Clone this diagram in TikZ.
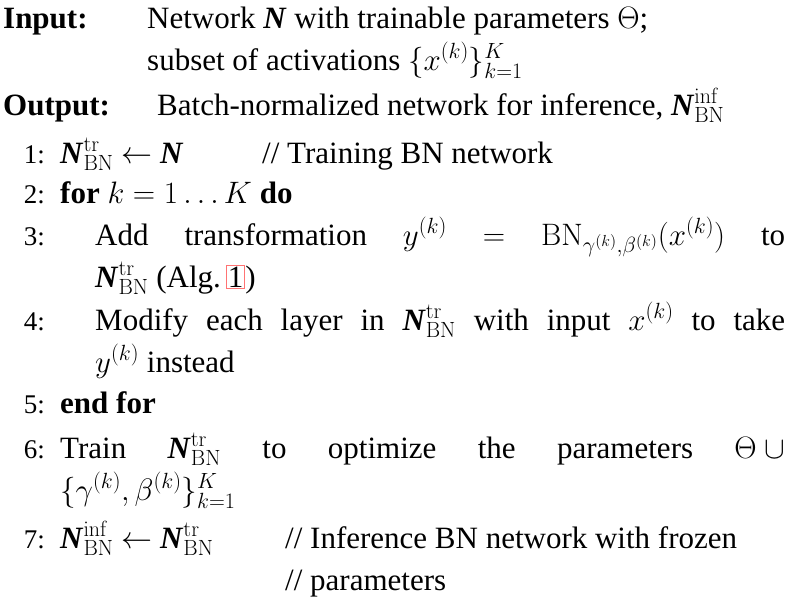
\RequirePackage{fix-cm}
\documentclass[tikz,border=0pt]{standalone}
\usepackage[no-math]{fontspec}
\setmainfont{Liberation Serif}
\usepackage{amsmath}
\DeclareMathSizes{31}{31}{22}{16}
\begin{document}
\begin{tikzpicture}[x=1pt,y=-1pt,
  tx/.style={anchor=base west,inner sep=0pt,font=\fontsize{31}{36}\selectfont},
  num/.style={anchor=base east,inner sep=0pt,font=\fontsize{27}{32}\selectfont}]
\useasboundingbox (0,0) rectangle (798,606);
\newcommand{\Nb}{\textbf{\textit{N}}}
\newcommand{\Ntr}{\Nb$^{\mathrm{tr}}_{\mathrm{BN}}$}
\node[tx] (i1) at (3,28) {\textbf{Input:}};
\node[tx] (i2) at (147,28) {Network \Nb{} with trainable parameters $\Theta$;};
\node[tx] (i3) at (147,70) {subset of activations $\{x^{(k)}\}_{k=1}^{K}$};
\node[tx] (o1) at (3,115) {\textbf{Output:}};
\node[tx] (o2) at (157,115) {Batch-normalized network for inference, \Nb$^{\mathrm{inf}}_{\mathrm{BN}}$};
\node[num] (n1) at (45,163) {1:};
\node[tx] (l1) at (60,163) {\Ntr{} $\leftarrow$ \Nb};
\node[tx] (c1) at (262,163) {// Training BN network};
\node[num] (n2) at (45,203) {2:};
\node[tx] (l2) at (60,203) {\textbf{for} $k=1\ldots K$ \textbf{do}};
\node[num] (n3) at (45,245) {3:};
\node[tx] (l3) at (95,245) {\hbox to 690pt{Add\hfill transformation\hfill $y^{(k)}$\hfill$=$\hfill$\mathrm{BN}_{\gamma^{(k)},\beta^{(k)}}(x^{(k)})$\hfill to}};
\node[tx] (l3b) at (95,287) {\Ntr{} (Alg.\,{\fboxsep=1pt\fboxrule=0.8pt\fcolorbox{red!55}{white}{1}})};
\node[num] (n4) at (45,330) {4:};
\node[tx] (l4) at (95,330) {\hbox to 690pt{Modify\hfill each\hfill layer\hfill in\hfill \Ntr{}\hfill with\hfill input\hfill $x^{(k)}$\hfill to\hfill take}};
\node[tx] (l4b) at (95,372) {$y^{(k)}$ instead};
\node[num] (n5) at (45,413) {5:};
\node[tx] (l5) at (60,413) {\textbf{end for}};
\node[num] (n6) at (45,458) {6:};
\node[tx] (l6) at (60,458) {\hbox to 725pt{Train\hfill \Ntr{}\hfill to\hfill optimize\hfill the\hfill parameters\hfill $\Theta\ \cup$}};
\node[tx] (l6b) at (60,500) {$\{\gamma^{(k)},\beta^{(k)}\}_{k=1}^{K}$};
\node[num] (n7) at (45,548) {7:};
\node[tx] (l7) at (60,548) {\Nb$^{\mathrm{inf}}_{\mathrm{BN}}$ $\leftarrow$ \Ntr};
\node[tx] (c7) at (285,548) {// Inference BN network with frozen};
\node[tx] (c7b) at (285,590) {// parameters};
\end{tikzpicture}
\end{document}
